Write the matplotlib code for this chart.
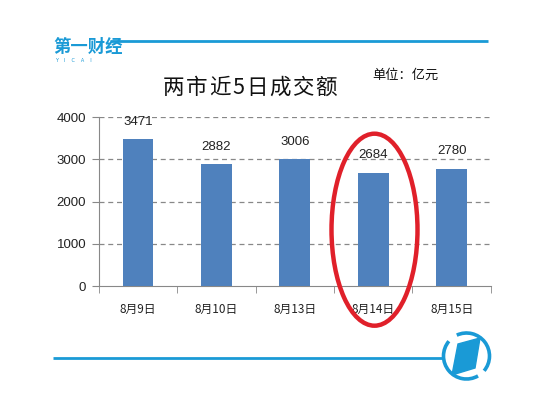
import matplotlib.pyplot as plt
from matplotlib.patches import Ellipse, Arc, Polygon

plt.rcParams['font.family'] = ['Noto Sans CJK SC', 'DejaVu Sans']

# datos del grafico
fechas = ['8月9日', '8月10日', '8月13日', '8月14日', '8月15日']
montos = [3471, 2882, 3006, 2684, 2780]
ticks_y = [0, 1000, 2000, 3000, 4000]
titulo = '两市近5日成交额'

AZUL_BARRA = '#4f81bd'
AZUL_LOGO = '#1a9ad6'
GRIS = '#888888'

fig = plt.figure(figsize=(5.51, 3.98), dpi=100)
ax = fig.add_axes([0.179, 0.2814, 0.712, 0.4246])

x = range(len(fechas))
barras = ax.bar(x, montos, width=0.39, color=AZUL_BARRA, zorder=3)
ax.bar_label(barras, labels=[str(v) for v in montos], padding=8,
             fontsize=9.5, family='Liberation Sans', color='#222222')

ax.set_xlim(-0.5, len(fechas) - 0.5)
ax.set_ylim(0, 4000)
ax.set_yticks(ticks_y)
ax.set_yticklabels([str(t) for t in ticks_y], family='Liberation Sans', fontsize=9.5,
                   color='#222222')
ax.set_xticks(x)
ax.set_xticklabels(fechas, fontsize=8.5, color='#222222')
ax.tick_params(axis='x', length=0, pad=12)
ax.tick_params(axis='y', length=5, color=GRIS, pad=4)
# marcas entre categorias
ax.set_xticks([i - 0.5 for i in range(len(fechas) + 1)], minor=True)
ax.tick_params(axis='x', which='minor', length=5, color=GRIS)

for t in ticks_y[1:]:
    ax.axhline(t, color=GRIS, linestyle=(0, (4, 3)), linewidth=0.9, zorder=1)

for lado in ['top', 'right']:
    ax.spines[lado].set_visible(False)
ax.spines['left'].set_color(GRIS)
ax.spines['bottom'].set_color(GRIS)

# capa de decoracion en pixeles
deco = fig.add_axes([0, 0, 1, 1], zorder=5)
deco.set_xlim(0, 551)
deco.set_ylim(398, 0)
deco.axis('off')
deco.patch.set_alpha(0)

# linea superior y logo
deco.plot([110, 488], [40.5, 40.5], color=AZUL_LOGO, linewidth=2, solid_capstyle='butt')
deco.text(53, 47, '第一财经', color=AZUL_LOGO, fontsize=12.5, fontweight='bold',
          va='center', ha='left')
deco.text(55, 60, 'Y    I    C    A    I', color=AZUL_LOGO, fontsize=3.5,
          va='center', ha='left', family='DejaVu Sans')

# titulo con espaciado entre letras
pos = 162
for c in titulo:
    avance = 14 if c.isdigit() else 23
    deco.text(pos + avance / 2, 88, c, fontsize=15.5, ha='center', va='center',
              color='#111111')
    pos += avance
deco.text(372, 75, '单位：亿元', fontsize=9.5, ha='left', va='center', color='#111111')

# elipse roja
deco.add_patch(Ellipse((374.5, 229.7), 86, 192, fill=False, edgecolor='#e0202a',
                       linewidth=3.2))

# linea inferior y logo circular
deco.plot([53, 444], [358, 358], color=AZUL_LOGO, linewidth=2, solid_capstyle='butt')
deco.add_patch(Arc((466.5, 356), 46, 46, theta1=60, theta2=220,
                   edgecolor=AZUL_LOGO, linewidth=2.6))
deco.add_patch(Arc((466.5, 356), 46, 46, theta1=245, theta2=400,
                   edgecolor=AZUL_LOGO, linewidth=2.6))
deco.add_patch(Polygon([(458, 344), (480, 338), (475, 368), (452, 375)],
                       closed=True, color=AZUL_LOGO))

fig.savefig('out.png', dpi=100)
